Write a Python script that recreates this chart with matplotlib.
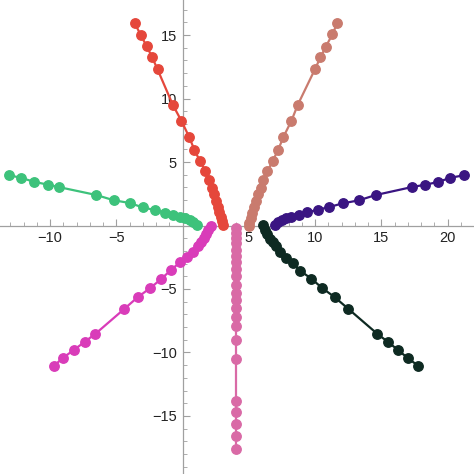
import matplotlib
matplotlib.use('Agg')
import matplotlib.pyplot as plt
from matplotlib.ticker import MultipleLocator, FixedLocator

plt.rcParams['font.family'] = ['Liberation Sans', 'DejaVu Sans']

# data
green_x = [-13.07, -12.18, -11.2, -10.18, -9.31, -6.5, -5.2, -3.98, -3.02, -2.11, -1.31, -0.7, -0.16, 0.22, 0.55, 0.8, 1.08]
green_y = [3.96, 3.75, 3.44, 3.22, 3.02, 2.4, 1.99, 1.77, 1.43, 1.22, 1.01, 0.83, 0.69, 0.56, 0.41, 0.24, 0.02]

purple_x = [21.21, 20.21, 19.31, 18.3, 17.32, 14.58, 13.3, 12.11, 11.08, 10.23, 9.42, 8.79, 8.22, 7.79, 7.47, 7.21, 6.96]
purple_y = [3.95, 3.76, 3.43, 3.21, 3.03, 2.4, 1.98, 1.75, 1.46, 1.24, 1.04, 0.85, 0.69, 0.57, 0.43, 0.28, 0.06]

red_x = [-3.62, -3.17, -2.71, -2.29, -1.89, -0.73, -0.08, 0.5, 0.9, 1.3, 1.73, 2.0, 2.21, 2.38, 2.53, 2.66, 2.76, 2.87, 2.96, 3.04]
red_y = [15.97, 15.02, 14.13, 13.24, 12.3, 9.49, 8.23, 6.97, 5.94, 5.1, 4.29, 3.58, 2.93, 2.46, 1.95, 1.48, 1.06, 0.69, 0.33, 0.06]

salmon_x = [11.69, 11.31, 10.81, 10.41, 10.0, 8.7, 8.22, 7.62, 7.21, 6.81, 6.41, 6.11, 5.9, 5.73, 5.55, 5.4, 5.28, 5.15, 5.05, 4.98]
salmon_y = [15.97, 15.05, 14.08, 13.24, 12.32, 9.51, 8.25, 6.99, 5.94, 5.1, 4.27, 3.56, 2.95, 2.46, 1.9, 1.43, 0.96, 0.57, 0.22, 0.0]

pink_x = [4.0] * 22
pink_y = [-0.2, -0.6, -1.0, -1.4, -1.9, -2.4, -2.9, -3.4, -4.0, -4.7, -5.3, -5.9, -6.5, -7.2,
          -7.9, -9.0, -10.5, -13.8, -14.7, -15.6, -16.6, -17.6]

magenta_x = [2.12, 1.95, 1.78, 1.6, 1.4, 1.15, 0.8, 0.35, -0.2, -0.9, -1.6, -2.42, -3.39, -4.4, -6.6, -7.4, -8.2, -9.0, -9.71]
magenta_y = [0.0, -0.32, -0.68, -1.02, -1.3, -1.64, -2.06, -2.48, -2.9, -3.53, -4.2, -4.91, -5.65, -6.57, -8.55, -9.17, -9.8, -10.4, -11.05]

dkgreen_x = [6.06, 6.2, 6.4, 6.6, 6.81, 7.04, 7.36, 7.81, 8.3, 8.87, 9.73, 10.51, 11.49, 12.52, 14.71, 15.51, 16.29, 16.99, 17.8]
dkgreen_y = [0.02, -0.35, -0.7, -1.06, -1.32, -1.64, -2.09, -2.54, -2.93, -3.56, -4.19, -4.9, -5.65, -6.57, -8.54, -9.17, -9.83, -10.43, -11.06]

series = [
    (green_x, green_y, '#3dc27b'),
    (magenta_x, magenta_y, '#d93cb9'),
    (red_x, red_y, '#e5473b'),
    (pink_x, pink_y, '#d96aa6'),
    (salmon_x, salmon_y, '#c97b6e'),
    (dkgreen_x, dkgreen_y, '#0e2a22'),
    (purple_x, purple_y, '#3a1582'),
]

fig = plt.figure(figsize=(4.74, 4.74), dpi=100)
ax = fig.add_axes([0, 0, 1, 1])

for xs, ys, c in series:
    ax.plot(xs, ys, '-o', color=c, lw=1.6, ms=6.8, mec=c, mfc=c, zorder=3)

ax.set_xlim(-13.78, 22.0)
ax.set_ylim(-19.57, 17.76)

# axes through the origin, Mathematica style
for s in ['top', 'right']:
    ax.spines[s].set_visible(False)
ax.spines['left'].set_position(('data', 0))
ax.spines['bottom'].set_position(('data', 0))
ax.spines['left'].set_color('#a0a0a0')
ax.spines['bottom'].set_color('#a0a0a0')
ax.spines['left'].set_linewidth(0.9)
ax.spines['bottom'].set_linewidth(0.9)

ax.xaxis.set_major_locator(FixedLocator([-10, -5, 5, 10, 15, 20]))
ax.yaxis.set_major_locator(FixedLocator([-15, -10, -5, 5, 10, 15]))
ax.xaxis.set_minor_locator(MultipleLocator(1))
ax.yaxis.set_minor_locator(MultipleLocator(1))
ax.tick_params(which='major', direction='in', length=5, width=0.8, color='#a0a0a0',
               labelsize=10.5, labelcolor='#222222', pad=4)
ax.tick_params(which='minor', direction='in', length=3, width=0.6, color='#a0a0a0')

ax.patch.set_alpha(0)
fig.savefig('out.png', dpi=100)
